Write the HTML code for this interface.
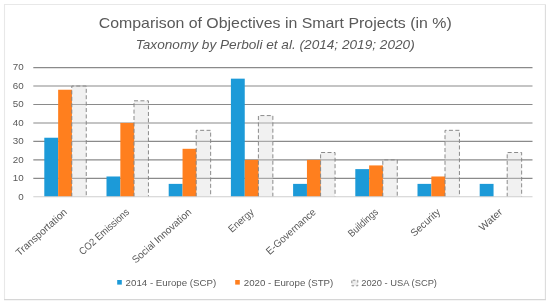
<!DOCTYPE html>
<html lang="en"><head><meta charset="utf-8"><title>Comparison of Objectives in Smart Projects</title>
<style>html,body{margin:0;padding:0;background:#fff;}body{width:550px;height:304px;overflow:hidden;}svg{display:block;font-family:"Liberation Sans",sans-serif;filter:blur(0.35px);}</style>
</head><body>
<svg width="550" height="304" viewBox="0 0 550 304">
<rect x="0" y="0" width="550" height="304" fill="#ffffff"/>
<path d="M4.5 299.6V4.5H545.4" fill="none" stroke="#e8e8e8" stroke-width="1.1"/>
<path d="M545.4 4.5V299.6" fill="none" stroke="#dcdcdc" stroke-width="1.1"/>
<path d="M4 299.6H546" fill="none" stroke="#d6d6d6" stroke-width="1.2"/>
<g stroke="#8a8a8a" stroke-width="1.1">
<line x1="33.3" y1="178.34" x2="532.5" y2="178.34"/>
<line x1="33.3" y1="159.88" x2="532.5" y2="159.88"/>
<line x1="33.3" y1="141.42" x2="532.5" y2="141.42"/>
<line x1="33.3" y1="122.96" x2="532.5" y2="122.96"/>
<line x1="33.3" y1="104.50" x2="532.5" y2="104.50"/>
<line x1="33.3" y1="86.04" x2="532.5" y2="86.04"/>
<line x1="33.3" y1="67.58" x2="532.5" y2="67.58"/>
</g>
<g>
<rect x="44.30" y="137.73" width="13.85" height="59.07" fill="#1c9ad8"/>
<rect x="58.15" y="89.73" width="13.85" height="107.07" fill="#ff7f1e"/>
<rect x="71.80" y="86.04" width="14.45" height="110.76" fill="#d9d9d9" fill-opacity="0.38"/>
<path d="M71.80 196.80V86.04H86.25V196.80" fill="none" stroke="#858585" stroke-width="0.95" stroke-dasharray="4 2.4"/>
<rect x="106.50" y="176.49" width="13.85" height="20.31" fill="#1c9ad8"/>
<rect x="120.35" y="122.96" width="13.85" height="73.84" fill="#ff7f1e"/>
<rect x="134.00" y="100.81" width="14.45" height="95.99" fill="#d9d9d9" fill-opacity="0.38"/>
<path d="M134.00 196.80V100.81H148.45V196.80" fill="none" stroke="#858585" stroke-width="0.95" stroke-dasharray="4 2.4"/>
<rect x="168.70" y="183.88" width="13.85" height="12.92" fill="#1c9ad8"/>
<rect x="182.55" y="148.80" width="13.85" height="48.00" fill="#ff7f1e"/>
<rect x="196.20" y="130.34" width="14.45" height="66.46" fill="#d9d9d9" fill-opacity="0.38"/>
<path d="M196.20 196.80V130.34H210.65V196.80" fill="none" stroke="#858585" stroke-width="0.95" stroke-dasharray="4 2.4"/>
<rect x="230.90" y="78.66" width="13.85" height="118.14" fill="#1c9ad8"/>
<rect x="244.75" y="159.88" width="13.85" height="36.92" fill="#ff7f1e"/>
<rect x="258.40" y="115.58" width="14.45" height="81.22" fill="#d9d9d9" fill-opacity="0.38"/>
<path d="M258.40 196.80V115.58H272.85V196.80" fill="none" stroke="#858585" stroke-width="0.95" stroke-dasharray="4 2.4"/>
<rect x="293.10" y="183.88" width="13.85" height="12.92" fill="#1c9ad8"/>
<rect x="306.95" y="159.88" width="13.85" height="36.92" fill="#ff7f1e"/>
<rect x="320.60" y="152.50" width="14.45" height="44.30" fill="#d9d9d9" fill-opacity="0.38"/>
<path d="M320.60 196.80V152.50H335.05V196.80" fill="none" stroke="#858585" stroke-width="0.95" stroke-dasharray="4 2.4"/>
<rect x="355.30" y="169.11" width="13.85" height="27.69" fill="#1c9ad8"/>
<rect x="369.15" y="165.42" width="13.85" height="31.38" fill="#ff7f1e"/>
<rect x="382.80" y="159.88" width="14.45" height="36.92" fill="#d9d9d9" fill-opacity="0.38"/>
<path d="M382.80 196.80V159.88H397.25V196.80" fill="none" stroke="#858585" stroke-width="0.95" stroke-dasharray="4 2.4"/>
<rect x="417.50" y="183.88" width="13.85" height="12.92" fill="#1c9ad8"/>
<rect x="431.35" y="176.49" width="13.85" height="20.31" fill="#ff7f1e"/>
<rect x="445.00" y="130.34" width="14.45" height="66.46" fill="#d9d9d9" fill-opacity="0.38"/>
<path d="M445.00 196.80V130.34H459.45V196.80" fill="none" stroke="#858585" stroke-width="0.95" stroke-dasharray="4 2.4"/>
<rect x="479.70" y="183.88" width="13.85" height="12.92" fill="#1c9ad8"/>
<rect x="507.20" y="152.50" width="14.45" height="44.30" fill="#d9d9d9" fill-opacity="0.38"/>
<path d="M507.20 196.80V152.50H521.65V196.80" fill="none" stroke="#858585" stroke-width="0.95" stroke-dasharray="4 2.4"/>
</g>
<line x1="33.3" y1="196.80" x2="532.5" y2="196.80" stroke="#cfcfcf" stroke-width="1.1"/>
<g fill="#595959" font-size="9.8" text-anchor="end">
<text x="23.6" y="199.60">0</text>
<text x="23.6" y="181.14">10</text>
<text x="23.6" y="162.68">20</text>
<text x="23.6" y="144.22">30</text>
<text x="23.6" y="125.76">40</text>
<text x="23.6" y="107.30">50</text>
<text x="23.6" y="88.84">60</text>
<text x="23.6" y="70.38">70</text>
</g>
<text x="275.2" y="28.2" font-size="14.2" fill="#595959" text-anchor="middle" textLength="353" lengthAdjust="spacingAndGlyphs">Comparison of Objectives in Smart Projects (in %)</text>
<text x="275.2" y="48.8" font-size="12.2" font-style="italic" fill="#595959" text-anchor="middle" textLength="279" lengthAdjust="spacingAndGlyphs">Taxonomy by Perboli et al. (2014; 2019; 2020)</text>
<g fill="#595959" font-size="10.2" text-anchor="end">
<text transform="translate(67.8,213.0) rotate(-42)" x="0" y="0" textLength="65" lengthAdjust="spacingAndGlyphs">Transportation</text>
<text transform="translate(130.0,213.0) rotate(-42)" x="0" y="0" textLength="63.5" lengthAdjust="spacingAndGlyphs">CO2 Emissions</text>
<text transform="translate(192.2,213.0) rotate(-42)" x="0" y="0" textLength="76" lengthAdjust="spacingAndGlyphs">Social Innovation</text>
<text transform="translate(254.4,213.0) rotate(-42)" x="0" y="0" textLength="30" lengthAdjust="spacingAndGlyphs">Energy</text>
<text transform="translate(316.6,213.0) rotate(-42)" x="0" y="0" textLength="63" lengthAdjust="spacingAndGlyphs">E-Governance</text>
<text transform="translate(378.8,213.0) rotate(-42)" x="0" y="0" textLength="36.5" lengthAdjust="spacingAndGlyphs">Buildings</text>
<text transform="translate(441.0,213.0) rotate(-42)" x="0" y="0" textLength="36" lengthAdjust="spacingAndGlyphs">Security</text>
<text transform="translate(503.2,213.0) rotate(-42)" x="0" y="0" textLength="27.5" lengthAdjust="spacingAndGlyphs">Water</text>
</g>
<g fill="#595959" font-size="9.7">
<rect x="117.2" y="280" width="4.6" height="4.6" fill="#1c9ad8"/>
<text x="125.6" y="286" textLength="90.7" lengthAdjust="spacingAndGlyphs">2014 - Europe (SCP)</text>
<rect x="235.2" y="280" width="4.6" height="4.6" fill="#ff7f1e"/>
<text x="243.8" y="286" textLength="89.5" lengthAdjust="spacingAndGlyphs">2020 - Europe (STP)</text>
<rect x="351.8" y="280.2" width="6" height="5.6" fill="#ececec" stroke="#858585" stroke-width="0.9" stroke-dasharray="2.6 2.2" stroke-dashoffset="-1"/>
<text x="361.2" y="286" textLength="75.8" lengthAdjust="spacingAndGlyphs">2020 - USA (SCP)</text>
</g>
</svg>
</body></html>
